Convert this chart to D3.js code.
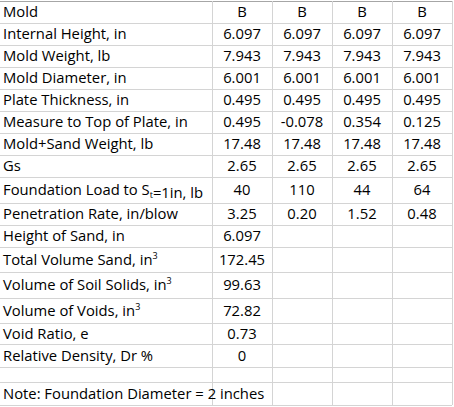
<!DOCTYPE html>
<html><head><meta charset="utf-8">
<script src="https://cdn.jsdelivr.net/npm/d3@7"></script>
<style>body{margin:0;background:#fff}text{font-family:"Open Sans",sans-serif;font-size:14.8px;fill:#000}</style>
</head><body><div id="sheet"></div>
<script>
var labels = ["Mold","Internal Height, in","Mold Weight, lb","Mold Diameter, in","Plate Thickness, in",
  "Measure to Top of Plate, in","Mold+Sand Weight, lb","Gs","Foundation Load to S|t|=1in, lb",
  "Penetration Rate, in/blow","Height of Sand, in","Total Volume Sand, in^3^","Volume of Soil Solids, in^3^",
  "Volume of Voids, in^3^","Void Ratio, e","Relative Density, Dr %","","Note: Foundation Diameter = 2 inches"];
var col1 = ["B","6.097","7.943","6.001","0.495","0.495","17.48","2.65","40","3.25","6.097","172.45","99.63","72.82","0.73","0","",""];
var col2 = ["B","6.097","7.943","6.001","0.495","-0.078","17.48","2.65","110","0.20","","","","","","","",""];
var col3 = ["B","6.097","7.943","6.001","0.495","0.354","17.48","2.65","44","1.52","","","","","","","",""];
var col4 = ["B","6.097","7.943","6.001","0.495","0.125","17.48","2.65","64","0.48","","","","","","","",""];

var rowLines = [1,23,45,67,89,111,133,155,177,203,225,247,272,298,323,344,367,382,405];
var colLines = [0,212,272,332,392,452];
var W = 454, H = 407;

var svg = d3.select("#sheet").append("svg").attr("width", W).attr("height", H);
var rows = d3.range(labels.length);
var cols = [col1, col2, col3, col4];

// grid
svg.selectAll(".h").data(rowLines).enter().append("line")
  .attr("x1", 0).attr("x2", 452).attr("y1", d => d + 0.5).attr("y2", d => d + 0.5)
  .attr("stroke", (d, i) => i == 0 ? "#a6a6a6" : "#d4d4d4");
svg.selectAll(".v").data(colLines.slice(1)).enter().append("line")
  .attr("x1", d => d + 0.5).attr("x2", d => d + 0.5).attr("y1", 1).attr("y2", 405)
  .attr("stroke", "#d4d4d4");
// cover the vertical line behind the note text
svg.append("rect").attr("x", 213).attr("y", 383).attr("width", 58).attr("height", 21).attr("fill", "#fff");

function addRich(t, s) {
  var parts = s.split(/(\|[^|]*\||\^[^^]*\^)/);
  parts.forEach(function(p) {
    if (!p) return;
    if (p[0] == "|") t.append("tspan").attr("font-size", "9px").attr("dy", 3).text(p.slice(1, -1))
      .clone().text("").attr("dy", -3);
    else if (p[0] == "^") t.append("tspan").attr("font-size", "9px").attr("dy", -6).text(p.slice(1, -1))
      .clone().text("").attr("dy", 6);
    else t.append("tspan").text(p);
  });
}

var mid = i => (rowLines[i] + rowLines[i + 1]) / 2 + 5;

svg.selectAll(".lab").data(rows).enter().append("text")
  .attr("x", 3).attr("y", mid)
  .each(function(i) { addRich(d3.select(this), labels[i]); });

cols.forEach(function(c, j) {
  svg.selectAll(".c" + j).data(rows).enter().append("text")
    .attr("x", (colLines[j + 1] + colLines[j + 2]) / 2).attr("y", mid)
    .attr("text-anchor", "middle").text(i => c[i]);
});
</script></body></html>
